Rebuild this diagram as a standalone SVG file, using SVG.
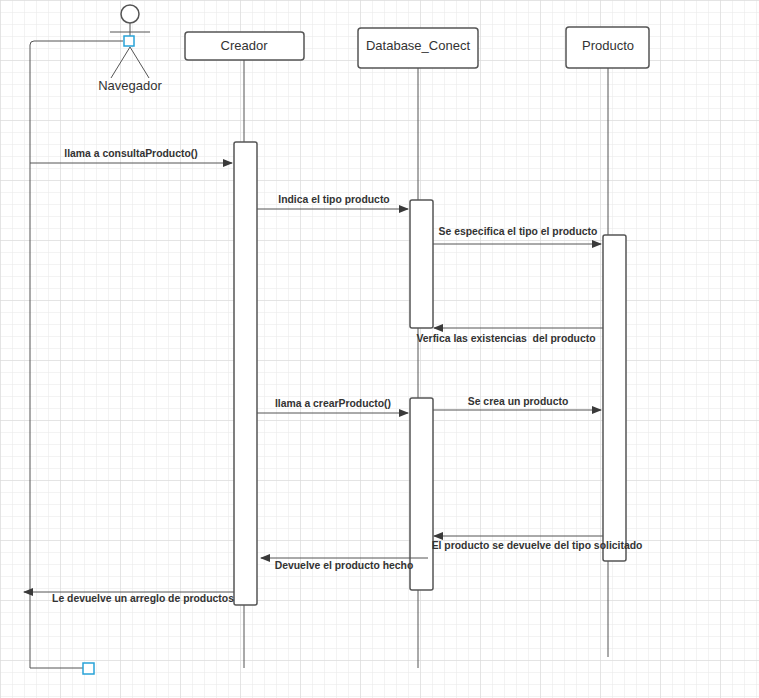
<svg xmlns="http://www.w3.org/2000/svg" width="759" height="698" viewBox="0 0 759 698">
<defs>
<pattern id="g" width="12" height="12" patternUnits="userSpaceOnUse"><path d="M12 0H0V12" fill="none" stroke="#e8e8e8" stroke-width="1"/></pattern>
<pattern id="G" width="60" height="60" patternUnits="userSpaceOnUse"><path d="M60 0H0V60" fill="none" stroke="#d6d6d6" stroke-width="1"/></pattern>
<marker id="a" markerWidth="10" markerHeight="8" refX="9" refY="4" orient="auto" markerUnits="userSpaceOnUse"><path d="M0 0L10 4L0 8Z" fill="#3a3a3a"/></marker>
</defs>
<style>
.box{fill:#fff;stroke:#555;stroke-width:1.5}
.act{fill:#fff;stroke:#555;stroke-width:1.5}
.ll{stroke:#555;stroke-width:1;fill:none}
.m{stroke:#555;stroke-width:1;fill:none;marker-end:url(#a)}
.t{font-family:"Liberation Sans",Arial,sans-serif;font-size:13px;fill:#333;text-anchor:middle}
.l{font-family:"Liberation Sans",Arial,sans-serif;font-size:10.4px;font-weight:bold;fill:#333;text-anchor:middle}
</style>
<rect width="759" height="698" fill="#fff"/>
<rect width="759" height="698" fill="url(#g)"/>
<rect width="759" height="698" fill="url(#G)"/>
<g id="navegador">
<circle cx="130" cy="14" r="9" class="box"/>
<path d="M130 23V36M110 32H150M130 47L111 78M130 47L149 78" class="ll" stroke-width="1.5"/>
<text x="130" y="90" class="t">Navegador</text>
</g>
<g id="creador">
<rect x="185" y="32" width="119" height="28" rx="3" class="box"/>
<text x="244" y="50" class="t">Creador</text>
<path d="M244 60V668" class="ll"/>
<rect x="234" y="142" width="23" height="463" rx="2" class="act"/>
</g>
<g id="database">
<rect x="358" y="28" width="120" height="40" rx="3" class="box"/>
<text x="418" y="50" class="t">Database_Conect</text>
<path d="M418 68V668" class="ll"/>
<rect x="410" y="200" width="23" height="128" rx="2" class="act"/>
<rect x="410" y="398" width="23" height="192" rx="2" class="act"/>
</g>
<g id="producto">
<rect x="566" y="27" width="83" height="41" rx="3" class="box"/>
<text x="608" y="50" class="t">Producto</text>
<path d="M608 68V657" class="ll"/>
<rect x="603" y="235" width="23" height="326" rx="2" class="act"/>
</g>
<g id="connectors">
<path d="M123 41H34Q30 41 30 45V668H84" class="ll" stroke-width="1.2"/>
<rect x="124" y="36" width="10" height="10" fill="#fff" stroke="#29a3d8" stroke-width="1.5"/>
<rect x="83" y="663" width="11" height="11" fill="#fff" stroke="#29a3d8" stroke-width="1.5"/>
<path d="M30 163H232" class="m"/>
<text x="131" y="157" class="l">llama a consultaProducto()</text>
<path d="M257 209H408" class="m"/>
<text x="334" y="203" class="l">Indica el tipo producto</text>
<path d="M433 244H601" class="m"/>
<text x="518" y="235" class="l">Se especifica el tipo el producto</text>
<path d="M603 328H434" class="m"/>
<text x="506" y="342" class="l">Verfica las existencias &#160;del producto</text>
<path d="M257 413H408" class="m"/>
<text x="333" y="407" class="l">llama a crearProducto()</text>
<path d="M433 410H601" class="m"/>
<text x="518" y="405" class="l">Se crea un producto</text>
<path d="M603 536H434" class="m"/>
<text x="537" y="549" class="l">El producto se devuelve del tipo solicitado</text>
<path d="M428 558H261" class="m"/>
<text x="344" y="569" class="l">Devuelve el producto hecho</text>
<path d="M234 592H24" class="m"/>
<text x="143" y="602" class="l">Le devuelve un arreglo de productos</text>
</g>
</svg>
